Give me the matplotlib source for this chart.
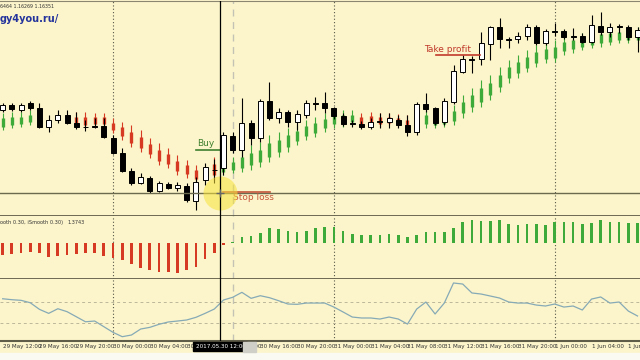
import numpy as np
import matplotlib.pyplot as plt
from matplotlib.patches import Rectangle

# H1 bars, 29 May 12:00 -> 1 Jun 09:00
bars = np.arange(70)

opens = [1.1190, 1.1195, 1.1190, 1.1197, 1.1192, 1.1173, 1.1180, 1.1185, 1.1177, 1.11735,
         1.1174, 1.1174, 1.1162, 1.1147, 1.1129, 1.1117, 1.1122, 1.1109, 1.1116, 1.1112,
         1.1114, 1.1099, 1.1120, 1.1130, 1.1132, 1.1164, 1.1150, 1.1177, 1.1162, 1.1199,
         1.1182, 1.1188, 1.1178, 1.1185, 1.1197, 1.1197, 1.1192, 1.1184, 1.1177, 1.1176,
         1.1173, 1.1179, 1.1178, 1.1180, 1.1175, 1.1168, 1.1196, 1.1192, 1.1178, 1.1198,
         1.1228, 1.1241, 1.1241, 1.1256, 1.1273, 1.1261, 1.1261, 1.1264, 1.1273, 1.1257,
         1.1269, 1.1269, 1.1264, 1.1264, 1.1258, 1.1274, 1.1268, 1.1274, 1.1273, 1.1263]
highs = [1.1197, 1.1197, 1.1197, 1.1199, 1.1197, 1.1185, 1.1190, 1.1190, 1.1188, 1.1180,
         1.1182, 1.1182, 1.1165, 1.1152, 1.1132, 1.1127, 1.1124, 1.1119, 1.1118, 1.1118,
         1.1117, 1.1123, 1.1137, 1.1141, 1.1168, 1.1168, 1.1202, 1.1180, 1.1201, 1.1218,
         1.1192, 1.1190, 1.1190, 1.1200, 1.1203, 1.1208, 1.1193, 1.1187, 1.1180, 1.1179,
         1.1182, 1.1187, 1.1187, 1.1185, 1.1185, 1.1198, 1.1207, 1.1193, 1.1202, 1.1235,
         1.1245, 1.1244, 1.1268, 1.1274, 1.1282, 1.1263, 1.1268, 1.1276, 1.1275, 1.1271,
         1.1277, 1.1271, 1.1272, 1.1267, 1.1285, 1.1288, 1.1277, 1.1276, 1.1275, 1.1273]
lows = [1.1188, 1.1189, 1.1188, 1.1190, 1.1172, 1.1168, 1.1177, 1.1176, 1.1171, 1.1169,
        1.1172, 1.1162, 1.1146, 1.1128, 1.1115, 1.1116, 1.1107, 1.1108, 1.1111, 1.1109,
        1.1098, 1.1090, 1.1115, 1.1117, 1.1125, 1.1147, 1.1143, 1.1155, 1.1158, 1.1180,
        1.1177, 1.1173, 1.1170, 1.1182, 1.1190, 1.1187, 1.1181, 1.1174, 1.1173, 1.1171,
        1.1171, 1.1172, 1.1172, 1.1172, 1.1164, 1.1165, 1.1188, 1.1175, 1.1175, 1.1196,
        1.1227, 1.1227, 1.1235, 1.1240, 1.1252, 1.1252, 1.1257, 1.1260, 1.1255, 1.1255,
        1.1264, 1.1261, 1.1260, 1.1257, 1.1257, 1.1265, 1.1263, 1.1267, 1.1260, 1.1248]
closes = [1.1195, 1.1191, 1.1195, 1.1192, 1.1173, 1.1180, 1.1185, 1.1177, 1.1173, 1.1173,
          1.11735, 1.1163, 1.1147, 1.1129, 1.1117, 1.1123, 1.1109, 1.1117, 1.1112, 1.1115,
          1.1100, 1.1118, 1.1133, 1.11305, 1.1165, 1.1150, 1.1177, 1.1162, 1.1199, 1.1182,
          1.1188, 1.1178, 1.1186, 1.1197, 1.11965, 1.1192, 1.1184, 1.1176, 1.11765, 1.1173,
          1.1178, 1.11785, 1.1182, 1.1175, 1.1168, 1.1196, 1.1191, 1.1177, 1.1199, 1.1229,
          1.1241, 1.12405, 1.1257, 1.1273, 1.1261, 1.12605, 1.1264, 1.1273, 1.1257, 1.1269,
          1.12685, 1.1263, 1.12635, 1.1258, 1.1275, 1.1268, 1.1273, 1.12735, 1.1263, 1.1270]

nan = np.nan
# smoothed heiken ashi overlay
ha_high = [1.1187, 1.1188, 1.1188, 1.1190, nan, nan, nan, nan, 1.1188, 1.1188,
           1.1187, 1.1187, 1.1182, 1.1178, 1.1175, 1.1170, 1.1162, 1.1157, 1.1152, 1.1145,
           1.1140, 1.1135, nan, 1.1143, 1.1140, 1.1143, 1.1150, 1.1155, 1.1158, 1.1165,
           1.1168, 1.1172, 1.1175, 1.1180, 1.1183, 1.1187, 1.1190, 1.1190, 1.1190, 1.1187,
           1.1188, 1.1187, 1.1187, 1.1186, 1.1185, nan, 1.1190, 1.1188, 1.1190, 1.1195,
           1.1205, 1.1212, 1.1220, 1.1225, 1.1233, 1.1240, 1.1245, 1.1250, 1.1255, 1.1257,
           1.1260, 1.1263, 1.1265, 1.1267, 1.1268, 1.1272, 1.1272, 1.1273, 1.1273, 1.1273]
ha_low = [1.1170, 1.1172, 1.1173, 1.1175, nan, nan, nan, nan, 1.1172, 1.1172,
          1.1173, 1.1173, 1.1167, 1.1160, 1.1153, 1.1148, 1.1142, 1.1135, 1.1132, 1.1125,
          1.1122, 1.1118, nan, 1.1120, 1.1125, 1.1127, 1.1128, 1.1130, 1.1133, 1.1138,
          1.1143, 1.1148, 1.1155, 1.1160, 1.1163, 1.1168, 1.1172, 1.1173, 1.1175, 1.1173,
          1.1175, 1.1173, 1.1175, 1.1173, 1.1168, nan, 1.1172, 1.1172, 1.1173, 1.1175,
          1.1182, 1.1188, 1.1193, 1.1200, 1.1208, 1.1217, 1.1222, 1.1228, 1.1233, 1.1237,
          1.1238, 1.1245, 1.1247, 1.1250, 1.1252, 1.1253, 1.1255, 1.1257, 1.1257, 1.1257]
ha_dir = [1] * 8 + [-1] * 16 + [1] * 15 + [-1] * 6 + [1] * 25

# histogram indicator (iSmooth)
hist = [-1.2, -1.1, -1.0, -0.9, -1.0, -1.4, -1.3, -1.2, -1.1, -1.0,
        -1.0, -1.3, -1.5, -1.7, -2.1, -2.5, -2.7, -2.9, -2.9, -3.0,
        -2.7, -2.4, -1.6, -1.0, -0.15, 0.1, 0.6, 0.7, 1.0, 1.5,
        1.4, 1.2, 1.1, 1.2, 1.5, 1.6, 1.6, 1.2, 0.9, 0.8,
        0.8, 0.8, 0.9, 0.8, 0.6, 0.8, 1.1, 1.1, 1.1, 1.5,
        2.1, 2.3, 2.2, 2.2, 2.3, 1.9, 1.8, 1.9, 1.9, 1.8,
        2.1, 2.1, 2.1, 1.9, 2.0, 2.3, 2.1, 2.1, 2.0, 2.0]

# oscillator in bottom window
osc = [63.1, 62.2, 61.6, 59.3, 53.0, 49.2, 53.6, 50.8, 46.0, 41.2,
       41.9, 36.5, 31.1, 27.0, 28.6, 34.3, 35.9, 38.8, 41.0, 41.9,
       42.9, 45.4, 49.2, 53.3, 61.9, 64.5, 69.2, 63.5, 66.0, 64.1,
       61.2, 58.1, 57.8, 59.0, 59.0, 59.0, 55.2, 50.5, 45.7, 44.8,
       44.8, 43.8, 45.7, 43.8, 39.0, 53.3, 60.0, 48.6, 59.0, 78.1,
       77.1, 68.6, 67.6, 65.7, 63.8, 60.0, 59.0, 59.0, 57.1, 56.2,
       58.1, 55.2, 56.2, 52.4, 62.8, 64.8, 59.0, 60.0, 51.4, 46.7]
osc_levels = [60, 40]

tick_bars = list(range(0, 70, 4))
tick_text = ['29 May 12:00', '29 May 16:00', '29 May 20:00', '30 May 00:00', '30 May 04:00',
             '30 May 08:00', '30 May 12:00', '30 May 16:00', '30 May 20:00', '31 May 00:00',
             '31 May 04:00', '31 May 08:00', '31 May 12:00', '31 May 16:00', '31 May 20:00',
             '1 Jun 00:00', '1 Jun 04:00', '1 Jun 08:00']
day_bars = [12, 36, 60]

# trade marks
cross_bar = 23.67
cross_price = 1.1107
buy_price = 1.1150
stop_price = 1.1108
take_price = 1.1245

bg = '#fcf5cb'
green = '#3daa3a'
red = '#d63a22'
frame = '#5f5c48'

fig = plt.figure(figsize=(6.4, 3.6), dpi=100, facecolor=bg)
ax1 = fig.add_axes([0, 0.4, 1, 215 / 360])
ax2 = fig.add_axes([0, 0.225, 1, 63 / 360])
ax3 = fig.add_axes([0, 19 / 360, 1, 62 / 360])

xl = (-0.29, 69.27)
for ax in (ax1, ax2, ax3):
    ax.set_facecolor(bg)
    ax.set_xlim(*xl)
    ax.set_xticks([])
    ax.set_yticks([])
    for s in ax.spines.values():
        s.set_visible(False)
    for d in day_bars:
        ax.axvline(d, color='#555548', lw=0.8, ls=(0, (1, 2)), zorder=1)
    ax.axvline(25, color='#c4c2b4', lw=1, ls=(0, (5, 4)), zorder=1)
    ax.axvline(cross_bar, color='black', lw=0.9, zorder=6)

ax1.set_ylim(1.1084, 1.1299)
ax2.set_ylim(-3.6, 2.7)
ax3.set_ylim(22.9, 81.9)

ax1.spines['bottom'].set_visible(True)
ax1.spines['bottom'].set_linewidth(2)
ax1.spines['bottom'].set_color(frame)
ax1.spines['top'].set_visible(True)
ax1.spines['top'].set_color('#8a8670')
ax2.spines['bottom'].set_visible(True)
ax2.spines['bottom'].set_linewidth(2)
ax2.spines['bottom'].set_color(frame)
ax3.spines['bottom'].set_visible(True)
ax3.spines['bottom'].set_linewidth(1.5)
ax3.spines['bottom'].set_color(frame)

# heiken ashi overlay
hh = np.array(ha_high)
hl = np.array(ha_low)
hcol = [green if d > 0 else red for d in ha_dir]
ax1.vlines(bars, hl, hh, colors=hcol, lw=0.8, zorder=2)
rng = hh - hl
ax1.vlines(bars, hh - 0.3 * rng, hh - 0.8 * rng, colors=hcol, lw=2.4, zorder=2)

# candles
o = np.array(opens)
c = np.array(closes)
ax1.vlines(bars, lows, highs, colors='black', lw=0.8, zorder=3)
body = np.maximum(np.abs(c - o), 0.00004)
fc = ['white' if cc > oo else 'black' for oo, cc in zip(o, c)]
ax1.bar(bars, body, bottom=np.minimum(o, c), width=0.55, color=fc,
        edgecolor='black', linewidth=0.7, zorder=4)

ax1.axhline(cross_price, color='#6b6a4f', lw=1, zorder=5)

# buy / stop / take profit
ax1.plot([21.0, cross_bar], [buy_price, buy_price], color='#3f7f2f', lw=1.2, zorder=5)
ax1.text(21.1, buy_price + 0.0002, 'Buy', color='#3f7f2f', fontsize=6.5, va='bottom', zorder=5)
ax1.plot([24.0, 29.1], [stop_price, stop_price], color='#c4553b', lw=1.2, zorder=5)
ax1.text(25.0, stop_price - 0.0005, 'Stop loss', color='#c4553b', fontsize=6.5, va='center', zorder=5)
ax1.plot([47.1, 51.9], [take_price, take_price], color='#c0392b', lw=1.2, zorder=5)
ax1.text(45.8, take_price + 0.0005, 'Take profit', color='#c0392b', fontsize=6.5, va='center', zorder=5)

ax1.scatter([cross_bar], [cross_price], s=600, color='#f6e23a', alpha=0.55, lw=0, zorder=5)
ax1.plot([cross_bar], [cross_price], marker='+', color='#666', ms=6, zorder=7)

ax1.text(0.0, 0.975, '6464 1.16269 1.16351', transform=ax1.transAxes, fontsize=3.4,
         color='#333333', va='center', ha='left')
ax1.text(0.0, 0.918, 'gy4you.ru/', transform=ax1.transAxes, fontsize=7,
         color='#24349c', va='center', ha='left', fontweight='semibold')

# histogram window
hcolors = [green if v > 0 else red for v in hist]
ax2.bar(bars, hist, width=0.3, color=hcolors, zorder=3)
ax2.text(0.0, 0.9, 'ooth 0.30, iSmooth 0.30)', transform=ax2.transAxes, fontsize=3.6,
         color='#333333', va='center')
ax2.text(67 / 640, 0.9, '1.3743', transform=ax2.transAxes, fontsize=3.6,
         color='#333333', va='center')

# oscillator window
for lv in osc_levels:
    ax3.axhline(lv, color='#bdb89a', lw=0.7, ls=(0, (3, 3)), zorder=1)
ax3.plot(bars, osc, color='#86aab6', lw=0.9, zorder=3)

tr = ax3.get_xaxis_transform()
for b, t in zip(tick_bars, tick_text):
    ax3.text(b, -0.085, t, transform=tr, fontsize=4.1, color='#333333',
             ha='left', va='center', clip_on=False, zorder=2)
ax3.text(cross_bar, -0.085, '2017.05.30 12:00', transform=tr, fontsize=4.1, color='white',
         ha='center', va='center', clip_on=False, zorder=10,
         bbox=dict(facecolor='black', edgecolor='black', pad=1.5))
fig.add_artist(Rectangle((243 / 640, 8 / 360), 13 / 640, 10 / 360,
                         transform=fig.transFigure, color='#cfcfc8', zorder=1))
fig.add_artist(Rectangle((0, 0), 1, 7 / 360, transform=fig.transFigure,
                         color='#fbfaf2', zorder=0))

plt.savefig('out.png', dpi=100, facecolor=bg)
